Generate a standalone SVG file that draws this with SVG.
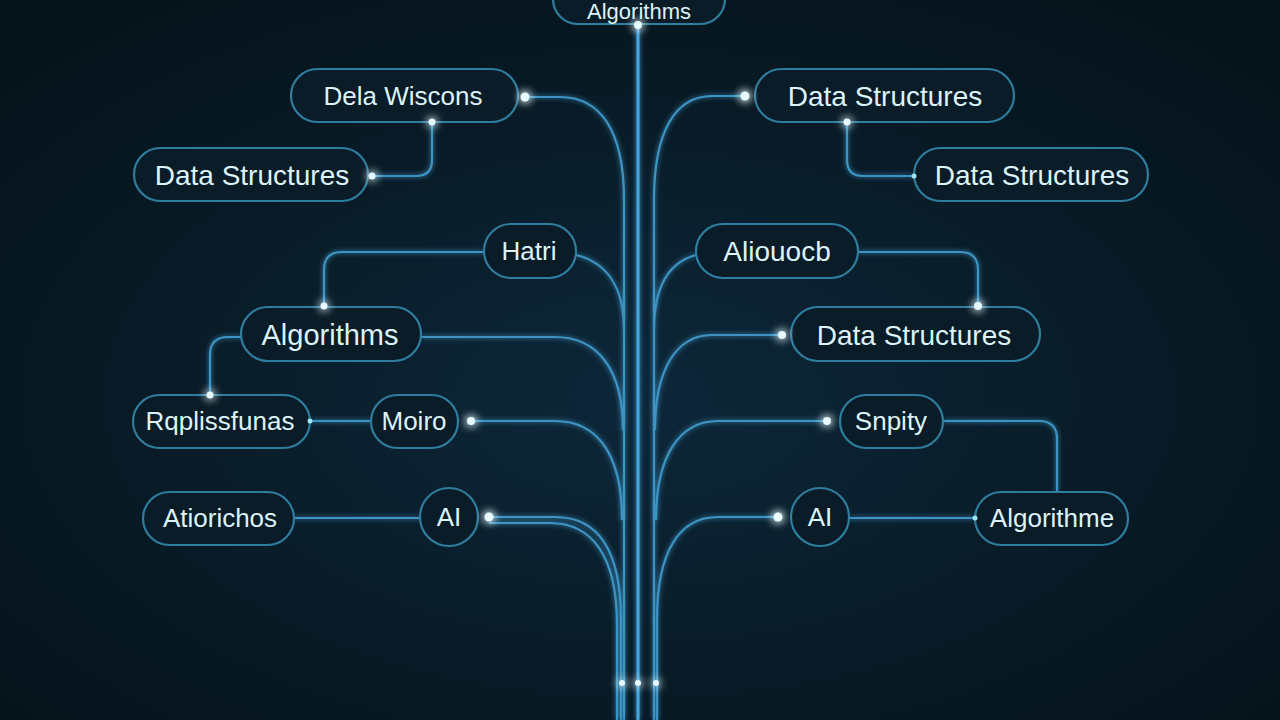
<svg xmlns="http://www.w3.org/2000/svg" width="1280" height="720" viewBox="0 0 1280 720">
<defs>
<radialGradient id="bg" cx="0.5" cy="0.55" r="0.7">
<stop offset="0" stop-color="#0d2739"/>
<stop offset="0.6" stop-color="#081a25"/>
<stop offset="1" stop-color="#05121a"/>
</radialGradient>
<filter id="glow" x="-50%" y="-50%" width="200%" height="200%">
<feGaussianBlur stdDeviation="2.5" result="b"/>
<feMerge><feMergeNode in="b"/><feMergeNode in="SourceGraphic"/></feMerge>
</filter>
<filter id="dotglow" x="-300%" y="-300%" width="700%" height="700%">
<feGaussianBlur stdDeviation="5" result="b"/>
<feMerge><feMergeNode in="b"/><feMergeNode in="b"/><feMergeNode in="SourceGraphic"/></feMerge>
</filter>
<style>
.box{fill:#0a1c28;stroke:#2f7d9e;stroke-width:2.2}
.lbl{font-family:"Liberation Sans",Arial,sans-serif;font-size:26px;fill:#dcf3f7;text-anchor:middle;dominant-baseline:central}
.big{font-size:28px}
.con{fill:none;stroke:#3d94c4;stroke-width:2.2}
.trunk{fill:none;stroke:#47a6e0;stroke-width:3}
.dot{fill:#e8fbff;filter:url(#dotglow)}
.sdot{fill:#9fe4f5}
</style>
</defs>
<rect width="1280" height="720" fill="url(#bg)"/>

<g id="connectors" filter="url(#glow)">
<path class="trunk" d="M638,25 V720"/>
<path class="con" d="M525,97 H560 C600,97 624,130 624,200 V720"/>
<path class="con" d="M576,255 C605,262 624,285 624,330"/>
<path class="con" d="M421,337 H555 C598,337 623,370 623,430"/>
<path class="con" d="M471,421 H555 C598,421 622,455 622,520"/>
<path class="con" d="M489,517 H555 C598,517 621,550 621,620 V720"/>
<path class="con" d="M489,523 H550 C592,523 617,556 617,625 V720"/>
<path class="con" d="M745,96 H712 C676,96 654,130 654,200 V720"/>
<path class="con" d="M696,255 C670,262 654,285 654,330"/>
<path class="con" d="M782,335 H712 C676,335 655,370 655,430"/>
<path class="con" d="M827,421 H718 C680,421 656,455 656,520"/>
<path class="con" d="M778,517 H718 C680,517 657,550 657,620 V720"/>
<path class="con" d="M432,122 V160 Q432,176 416,176 H372"/>
<path class="con" d="M484,252 H342 Q324,252 324,270 V307"/>
<path class="con" d="M241,337 H228 Q210,337 210,355 V395"/>
<path class="con" d="M310,421 H371"/>
<path class="con" d="M294,518 H420"/>
<path class="con" d="M847,122 V160 Q847,176 863,176 H914"/>
<path class="con" d="M858,252 H960 Q978,252 978,270 V307"/>
<path class="con" d="M943,421 H1039 Q1057,421 1057,439 V492"/>
<path class="con" d="M849,518 H975"/>
</g>

<g id="node-top"><rect class="box" x="553" y="-26" width="172" height="50" rx="25"/><text class="lbl" x="639" y="11" style="font-size:22px">Algorithms</text></g>
<g id="node-dela"><rect class="box" x="291" y="69" width="227" height="53" rx="26.5"/><text class="lbl" x="403" y="96">Dela Wiscons</text></g>
<g id="node-ds-l"><rect class="box" x="134" y="148" width="234" height="53" rx="26.5"/><text class="lbl big" x="252" y="175">Data Structures</text></g>
<g id="node-hatri"><rect class="box" x="484" y="224" width="92" height="54" rx="27"/><text class="lbl" x="529" y="251">Hatri</text></g>
<g id="node-algo-l"><rect class="box" x="241" y="307" width="180" height="54" rx="27"/><text class="lbl" x="330" y="335" style="font-size:29px">Algorithms</text></g>
<g id="node-rqpl"><rect class="box" x="133" y="395" width="177" height="53" rx="26.5"/><text class="lbl" x="220" y="421">Rqplissfunas</text></g>
<g id="node-moiro"><rect class="box" x="371" y="395" width="87" height="53" rx="26.5"/><text class="lbl" x="414" y="421">Moiro</text></g>
<g id="node-atio"><rect class="box" x="143" y="492" width="151" height="53" rx="26.5"/><text class="lbl" x="220" y="518">Atiorichos</text></g>
<g id="node-ai-l"><circle class="box" cx="449" cy="517" r="29"/><text class="lbl" x="449" y="517">AI</text></g>

<g id="node-ds-r1"><rect class="box" x="755" y="69" width="259" height="53" rx="26.5"/><text class="lbl big" x="885" y="96">Data Structures</text></g>
<g id="node-ds-r2"><rect class="box" x="914" y="148" width="234" height="53" rx="26.5"/><text class="lbl big" x="1032" y="175">Data Structures</text></g>
<g id="node-alio"><rect class="box" x="696" y="224" width="162" height="54" rx="27"/><text class="lbl" x="777" y="251" style="font-size:28px">Aliouocb</text></g>
<g id="node-ds-r3"><rect class="box" x="791" y="307" width="249" height="54" rx="27"/><text class="lbl big" x="914" y="335">Data Structures</text></g>
<g id="node-snpity"><rect class="box" x="840" y="395" width="103" height="53" rx="26.5"/><text class="lbl" x="891" y="421">Snpity</text></g>
<g id="node-ai-r"><circle class="box" cx="820" cy="517" r="29"/><text class="lbl" x="820" y="517">AI</text></g>
<g id="node-algme"><rect class="box" x="975" y="492" width="153" height="53" rx="26.5"/><text class="lbl" x="1052" y="518">Algorithme</text></g>

<g id="dots">
<circle class="dot" cx="638" cy="25" r="4"/>
<circle class="dot" cx="525" cy="97" r="4.5"/>
<circle class="dot" cx="432" cy="122" r="3.5"/>
<circle class="dot" cx="372" cy="176" r="3.5"/>
<circle class="dot" cx="324" cy="306" r="3.5"/>
<circle class="dot" cx="210" cy="395" r="3.5"/>
<circle class="dot" cx="471" cy="421" r="4"/>
<circle class="dot" cx="489" cy="517" r="4.5"/>
<circle class="dot" cx="745" cy="96" r="4.5"/>
<circle class="dot" cx="847" cy="122" r="3.5"/>
<circle class="dot" cx="978" cy="306" r="4"/>
<circle class="dot" cx="782" cy="335" r="4"/>
<circle class="dot" cx="827" cy="421" r="4"/>
<circle class="dot" cx="778" cy="517" r="4.5"/>
<circle class="sdot" cx="975" cy="518" r="2.5"/>
<circle class="sdot" cx="914" cy="176" r="2.5"/>
<circle class="sdot" cx="310" cy="421" r="2.5"/>
<circle class="dot" cx="622" cy="683" r="3"/>
<circle class="dot" cx="638" cy="683" r="3"/>
<circle class="dot" cx="656" cy="683" r="3"/>
</g>
</svg>
